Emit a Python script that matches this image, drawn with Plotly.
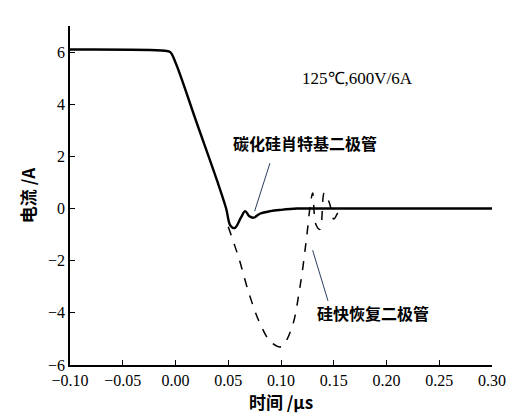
import plotly.graph_objects as go

sx = [-0.10, -0.01, -0.005, 0.0, 0.02, 0.04, 0.048, 0.052, 0.056, 0.062, 0.066, 0.070, 0.074, 0.080, 0.090, 0.100, 0.115, 0.13, 0.20, 0.30]
sy = [6.1, 6.05, 6.0, 5.6, 3.3, 1.0, 0.0, -0.65, -0.75, -0.35, -0.1, -0.3, -0.35, -0.2, -0.1, -0.05, 0.0, 0.0, 0.0, 0.0]
dx = [0.05, 0.06, 0.07, 0.08, 0.09, 0.10, 0.11, 0.118, 0.124, 0.128, 0.130, 0.133, 0.137, 0.141, 0.146, 0.150, 0.155, 0.16]
dy = [-0.7, -1.9, -3.3, -4.4, -5.1, -5.3, -4.6, -3.0, -1.2, 0.2, 0.6, -0.6, -0.8, 0.6, 0.2, -0.4, -0.1, 0.0]

fig = go.Figure()
fig.add_trace(go.Scatter(x=dx, y=dy, mode="lines", line=dict(color="black", width=1.5, dash="dash", shape="spline")))
fig.add_trace(go.Scatter(x=sx, y=sy, mode="lines", line=dict(color="black", width=2.4, shape="spline")))
fnt = "Noto Sans CJK SC"
fig.add_annotation(x=0.075, y=-0.1, ax=0.09, ay=1.8, axref="x", ayref="y", showarrow=True, arrowhead=0, arrowwidth=1, text="")
fig.add_annotation(x=0.13, y=-1.6, ax=0.145, ay=-3.6, axref="x", ayref="y", showarrow=True, arrowhead=0, arrowwidth=1, text="")
fig.add_annotation(x=0.053, y=2.5, text="<b>碳化硅肖特基二极管</b>", showarrow=False, xanchor="left", font=dict(family=fnt, size=16, color="black"))
fig.add_annotation(x=0.132, y=-4.0, text="<b>硅快恢复二极管</b>", showarrow=False, xanchor="left", font=dict(family=fnt, size=16, color="black"))
fig.add_annotation(x=0.118, y=5.0, text="125℃,600V/6A", showarrow=False, xanchor="left", font=dict(family="Liberation Serif", size=17, color="black"))
ax = dict(showgrid=False, zeroline=False, showline=True, linecolor="black", linewidth=1.5, ticks="inside", tickcolor="black", ticklen=5, mirror=False,
          tickfont=dict(family="Liberation Serif", size=16, color="black"))
fig.update_layout(width=514, height=420, plot_bgcolor="white", paper_bgcolor="white", showlegend=False,
                  margin=dict(l=62, r=30, t=18, b=63),
                  xaxis=dict(ax, range=[-0.10, 0.30], dtick=0.05, tickformat=".2f",
                             title=dict(text="<b>时间 /μs</b>", font=dict(family=fnt, size=17, color="black"), standoff=4)),
                  yaxis=dict(ax, range=[-6, 7], tickvals=[-6, -4, -2, 0, 2, 4, 6],
                             title=dict(text="<b>电流 /A</b>", font=dict(family=fnt, size=17, color="black"), standoff=8)))
fig.write_html("out.html")
